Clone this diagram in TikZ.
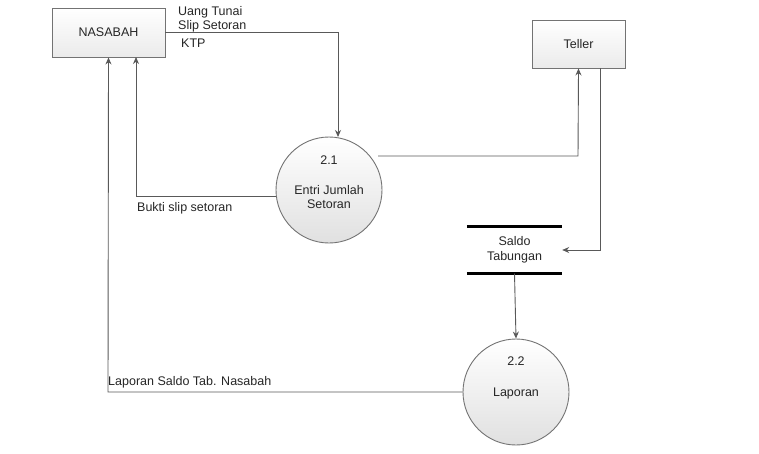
\documentclass[tikz,border=0pt]{standalone}
\usepackage{fontspec}
\setmainfont{Liberation Sans}
\usetikzlibrary{arrows.meta}
\begin{document}
\begin{tikzpicture}[x=1pt,y=-1pt,
  every node/.style={font=\fontsize{12.5}{14.5}\selectfont, text=black!85},
  box/.style={draw=black!55, line width=0.9pt, top color=white, bottom color=black!8, minimum width=113pt, minimum height=49pt},
  proc/.style={circle, draw=black!55, line width=0.9pt, top color=white, bottom color=black!12, minimum size=106pt, align=center},
  flow/.style={draw=black!65, line width=0.9pt, -{Stealth[length=7pt,width=6pt]}},
  lbl/.style={inner sep=0pt, align=left}]
\useasboundingbox (0,0) rectangle (759,453);
\node[box] (nas) at (108.5,32.5) {NASABAH};
\node[box, minimum width=93pt, minimum height=48pt] (tel) at (578.5,44) {Teller};
\node[proc] (p1) at (329,190) {};
\node at (329,160) {2.1};
\node[align=center] at (329,197) {Entri Jumlah\\Setoran};
\node[proc] (p2) at (516,392) {};
\node at (516,361) {2.2};
\node at (516,393) {Laporan};
\node[align=center, minimum width=95pt, minimum height=47pt] (ds) at (514.5,250) {Saldo\\Tabungan};
\draw[line width=2.5pt] (ds.north west) -- (ds.north east);
\draw[line width=2.5pt] (ds.south west) -- (ds.south east);
\coordinate (c1) at (338,32);
\draw[flow] (nas.east |- c1) -- (c1) -- (338,137);
\node[lbl, anchor=north west] at (178,6) {Uang Tunai\\Slip Setoran};
\node[lbl, anchor=north west] at (181,39) {KTP};
\coordinate (c2) at (578,156);
\draw[flow] (378,156) -- (c2) -- (tel.south);
\coordinate (c3) at (600,250);
\draw[flow] (600,68) -- (c3) -- (ds.east);
\coordinate (c4) at (136,196);
\draw[flow] (p1.west |- c4) -- (c4) -- (136,57);
\node[lbl, anchor=north west] at (137,202) {Bukti slip setoran};
\draw[flow] (ds.south) -- (p2.north);
\coordinate (c5) at (108,392);
\draw[flow] (p2.west) -- (c5) -- (nas.south);
\node[lbl, anchor=south west] at (108,388) {Laporan Saldo Tab. Nasabah};
\end{tikzpicture}
\end{document}
